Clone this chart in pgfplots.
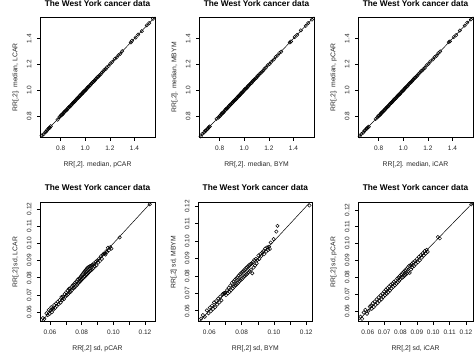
\documentclass[border=0pt]{standalone}
\usepackage{fontspec}
\setmainfont{Liberation Sans}
\usepackage{pgfplots}
\usepackage{pgfplotstable}
\pgfplotsset{compat=1.18}

\pgfplotstableread{
x y1 y2 y3
0.645 0.648 0.642 0.643
0.660 0.658 0.662 0.661
0.675 0.676 0.674 0.672
0.683 0.680 0.686 0.685
0.690 0.692 0.688 0.690
0.700 0.700 0.700 0.703
0.705 0.708 0.702 0.703
0.712 0.710 0.714 0.713
0.720 0.721 0.719 0.717
0.775 0.772 0.778 0.777
0.790 0.792 0.788 0.790
0.798 0.798 0.798 0.801
0.805 0.808 0.802 0.803
0.810 0.808 0.812 0.811
0.815 0.816 0.814 0.812
0.820 0.817 0.823 0.822
0.825 0.827 0.823 0.825
0.830 0.830 0.830 0.833
0.836 0.839 0.833 0.834
0.842 0.840 0.844 0.843
0.848 0.849 0.847 0.845
0.853 0.850 0.856 0.855
0.858 0.860 0.856 0.858
0.864 0.864 0.864 0.867
0.870 0.873 0.867 0.868
0.875 0.873 0.877 0.876
0.880 0.881 0.879 0.877
0.886 0.883 0.889 0.888
0.892 0.894 0.890 0.892
0.898 0.898 0.898 0.901
0.903 0.906 0.900 0.901
0.908 0.906 0.910 0.909
0.913 0.914 0.912 0.910
0.918 0.915 0.921 0.920
0.923 0.925 0.921 0.923
0.928 0.928 0.928 0.931
0.933 0.936 0.930 0.931
0.938 0.936 0.940 0.939
0.943 0.944 0.942 0.940
0.948 0.945 0.951 0.950
0.953 0.955 0.951 0.953
0.958 0.958 0.958 0.961
0.963 0.966 0.960 0.961
0.968 0.966 0.970 0.969
0.973 0.974 0.972 0.970
0.978 0.975 0.981 0.980
0.983 0.985 0.981 0.983
0.988 0.988 0.988 0.991
0.993 0.996 0.990 0.991
0.998 0.996 1.000 0.999
1.003 1.004 1.002 1.000
1.008 1.005 1.011 1.010
1.013 1.015 1.011 1.013
1.018 1.018 1.018 1.021
1.024 1.027 1.021 1.022
1.030 1.028 1.032 1.031
1.036 1.037 1.035 1.033
1.042 1.039 1.045 1.044
1.048 1.050 1.046 1.048
1.054 1.054 1.054 1.057
1.060 1.063 1.057 1.058
1.066 1.064 1.068 1.067
1.072 1.073 1.071 1.069
1.078 1.075 1.081 1.080
1.085 1.087 1.083 1.085
1.092 1.092 1.092 1.095
1.100 1.103 1.097 1.098
1.108 1.106 1.110 1.109
1.116 1.117 1.115 1.113
1.125 1.122 1.128 1.127
1.135 1.137 1.133 1.135
1.145 1.145 1.145 1.148
1.155 1.158 1.152 1.153
1.165 1.163 1.167 1.166
1.175 1.176 1.174 1.172
1.190 1.187 1.193 1.192
1.205 1.207 1.203 1.205
1.220 1.220 1.220 1.223
1.240 1.243 1.237 1.238
1.255 1.253 1.257 1.256
1.270 1.271 1.269 1.267
1.285 1.282 1.288 1.287
1.300 1.302 1.298 1.300
1.370 1.370 1.370 1.373
1.380 1.383 1.377 1.378
1.410 1.408 1.412 1.411
1.430 1.431 1.429 1.427
1.460 1.457 1.463 1.462
1.500 1.502 1.498 1.500
1.520 1.520 1.520 1.523
1.550 1.553 1.547 1.548
}\medtab

\pgfplotstableread{
x y
0.0555 0.0565
0.0565 0.0560
0.0578 0.0593
0.0585 0.0582
0.0592 0.0612
0.0598 0.0590
0.0603 0.0608
0.0608 0.0628
0.0612 0.0600
0.0618 0.0622
0.0622 0.0615
0.0627 0.0641
0.0633 0.0625
0.0638 0.0650
0.0642 0.0635
0.0648 0.0660
0.0655 0.0646
0.0661 0.0670
0.0667 0.0655
0.0672 0.0688
0.0678 0.0670
0.0683 0.0690
0.0688 0.0675
0.0692 0.0705
0.0697 0.0690
0.0701 0.0715
0.0706 0.0696
0.0711 0.0725
0.0715 0.0705
0.0719 0.0735
0.0723 0.0713
0.0727 0.0738
0.0731 0.0718
0.0735 0.0745
0.0739 0.0728
0.0743 0.0756
0.0747 0.0738
0.0751 0.0760
0.0755 0.0742
0.0759 0.0772
0.0763 0.0752
0.0767 0.0778
0.0771 0.0758
0.0775 0.0790
0.0779 0.0768
0.0783 0.0795
0.0786 0.0774
0.0789 0.0800
0.0792 0.0780
0.0795 0.0808
0.0798 0.0787
0.0801 0.0815
0.0804 0.0792
0.0807 0.0822
0.0810 0.0798
0.0813 0.0830
0.0816 0.0805
0.0819 0.0838
0.0822 0.0808
0.0825 0.0845
0.0828 0.0815
0.0831 0.0850
0.0834 0.0820
0.0837 0.0858
0.0840 0.0826
0.0843 0.0862
0.0846 0.0832
0.0849 0.0866
0.0852 0.0838
0.0855 0.0868
0.0858 0.0842
0.0862 0.0872
0.0866 0.0848
0.0870 0.0878
0.0874 0.0856
0.0878 0.0884
0.0883 0.0865
0.0888 0.0893
0.0893 0.0872
0.0898 0.0900
0.0904 0.0888
0.0910 0.0912
0.0916 0.0898
0.0922 0.0925
0.0928 0.0910
0.0934 0.0935
0.0940 0.0940
0.0945 0.0940
0.0950 0.0935
0.0955 0.0955
0.0960 0.0950
0.0966 0.0975
0.0972 0.0960
0.0980 0.0978
0.0988 0.0970
0.1040 0.1035
0.1230 0.1228
}\sdA

\pgfplotstableread{
x y
0.0550 0.0555
0.0560 0.0575
0.0572 0.0565
0.0585 0.0602
0.0595 0.0585
0.0603 0.0618
0.0610 0.0598
0.0617 0.0630
0.0623 0.0610
0.0630 0.0648
0.0636 0.0620
0.0642 0.0655
0.0648 0.0635
0.0655 0.0670
0.0662 0.0648
0.0668 0.0682
0.0675 0.0660
0.0682 0.0695
0.0688 0.0700
0.0694 0.0702
0.0699 0.0703
0.0704 0.0690
0.0710 0.0718
0.0715 0.0700
0.0720 0.0732
0.0725 0.0708
0.0730 0.0745
0.0735 0.0718
0.0740 0.0760
0.0745 0.0728
0.0750 0.0768
0.0754 0.0738
0.0758 0.0778
0.0762 0.0745
0.0766 0.0785
0.0770 0.0752
0.0774 0.0792
0.0778 0.0760
0.0782 0.0802
0.0786 0.0768
0.0790 0.0810
0.0794 0.0775
0.0798 0.0818
0.0802 0.0782
0.0806 0.0825
0.0810 0.0790
0.0814 0.0832
0.0818 0.0798
0.0822 0.0840
0.0826 0.0805
0.0830 0.0848
0.0834 0.0812
0.0838 0.0855
0.0842 0.0820
0.0846 0.0862
0.0850 0.0828
0.0854 0.0868
0.0858 0.0835
0.0862 0.0872
0.0866 0.0815
0.0870 0.0880
0.0874 0.0848
0.0878 0.0892
0.0883 0.0860
0.0888 0.0898
0.0893 0.0872
0.0898 0.0892
0.0904 0.0918
0.0910 0.0898
0.0916 0.0925
0.0922 0.0915
0.0928 0.0935
0.0934 0.0942
0.0940 0.0925
0.0946 0.0958
0.0952 0.0940
0.0958 0.0965
0.0964 0.0950
0.0970 0.0968
0.0975 0.0955
0.0980 0.0992
0.0998 0.1012
0.1015 0.1055
0.1022 0.1088
0.1220 0.1205
}\sdB

\pgfplotstableread{
x y
0.0555 0.0565
0.0565 0.0552
0.0575 0.0590
0.0585 0.0605
0.0595 0.0582
0.0605 0.0600
0.0612 0.0625
0.0618 0.0630
0.0624 0.0612
0.0630 0.0645
0.0636 0.0622
0.0642 0.0655
0.0648 0.0635
0.0654 0.0668
0.0660 0.0645
0.0666 0.0680
0.0672 0.0658
0.0678 0.0692
0.0684 0.0668
0.0690 0.0702
0.0695 0.0682
0.0700 0.0715
0.0705 0.0692
0.0710 0.0725
0.0715 0.0700
0.0720 0.0735
0.0725 0.0710
0.0730 0.0745
0.0735 0.0720
0.0740 0.0755
0.0745 0.0732
0.0750 0.0762
0.0755 0.0742
0.0760 0.0772
0.0765 0.0750
0.0770 0.0780
0.0775 0.0760
0.0780 0.0792
0.0784 0.0770
0.0788 0.0798
0.0792 0.0778
0.0796 0.0808
0.0800 0.0788
0.0804 0.0815
0.0808 0.0795
0.0812 0.0825
0.0816 0.0800
0.0820 0.0832
0.0824 0.0808
0.0828 0.0840
0.0832 0.0815
0.0836 0.0848
0.0840 0.0822
0.0844 0.0858
0.0848 0.0830
0.0852 0.0866
0.0856 0.0825
0.0860 0.0872
0.0864 0.0845
0.0868 0.0878
0.0872 0.0858
0.0877 0.0888
0.0882 0.0865
0.0888 0.0895
0.0894 0.0878
0.0900 0.0908
0.0906 0.0888
0.0912 0.0920
0.0918 0.0900
0.0924 0.0930
0.0930 0.0915
0.0936 0.0942
0.0942 0.0928
0.0948 0.0955
0.0954 0.0940
0.0960 0.0962
0.0966 0.0950
0.1028 0.1038
0.1040 0.1030
0.1232 0.1232
}\sdC

\pgfplotsset{
  rplot/.style={
    scale only axis,
    anchor=south west,
    axis line style={black, line width=0.5pt},
    tick align=outside,
    major tick length=3pt,
    tick style={black, line width=0.5pt},
    xtick pos=bottom, ytick pos=left,
    ticklabel style={font=\fontsize{6.5}{7}\selectfont, text=black!85},
    xticklabel style={yshift=-2pt},
    yticklabel style={xshift=-2pt, rotate=90, anchor=south},
    label style={font=\fontsize{6.8}{8}\selectfont, text=black!85},
    title={The West York cancer data},
    clip=true,
  },
  rmed/.style={
    rplot, width=115pt, height=120.7pt,
    xmin=0.632, xmax=1.567, ymin=0.632, ymax=1.567,
    xtick={0.8,1.0,1.2,1.4}, xticklabels={0.8,1.0,1.2,1.4},
    ytick={0.8,1.0,1.2,1.4}, yticklabels={0.8,1.0,1.2,1.4},
    every axis title/.style={at={(axis description cs:0.5,1.083)}, anchor=base,
      font=\bfseries\fontsize{8.3}{10}\selectfont},
    xlabel style={at={(axis description cs:0.5,-0.225)}, anchor=center},
    ylabel style={at={(axis description cs:-0.211,0.5)}, anchor=center},
  },
  rsd/.style={
    rplot, width=115pt, height=119pt,
    xtick={0.06,0.07,...,0.12},
    ytick={0.06,0.07,...,0.12}, yticklabels={0.06,0.07,0.08,0.09,0.10,0.11,0.12},
    every axis title/.style={at={(axis description cs:0.5,1.101)}, anchor=base,
      font=\bfseries\fontsize{8.3}{10}\selectfont},
    xlabel style={at={(axis description cs:0.5,-0.23)}, anchor=center},
    ylabel style={at={(axis description cs:-0.211,0.5)}, anchor=center},
  },
  pts/.style={only marks, mark=o, mark size=1.7pt, mark options={black, line width=0.5pt}},
}

\begin{document}
\begin{tikzpicture}
\path[use as bounding box] (0pt,0pt) rectangle (474pt,363pt);

% Top row
\begin{axis}[rmed, at={(40pt,225.3pt)},
  xlabel={RR[,2]. median, pCAR}, ylabel={RR[,2]. median, LCAR}]
\addplot[black, line width=0.5pt] coordinates {(0.5,0.5) (1.7,1.7)};
\addplot[pts] table[x=x, y=y1] {\medtab};
\end{axis}

\begin{axis}[rmed, at={(199pt,225.3pt)},
  xlabel={RR[,2]. median, BYM}, ylabel={RR[,2]. median, MBYM}]
\addplot[black, line width=0.5pt] coordinates {(0.5,0.5) (1.7,1.7)};
\addplot[pts] table[x=x, y=y2] {\medtab};
\end{axis}

\begin{axis}[rmed, at={(358pt,225.3pt)},
  xlabel={RR[,2]. median, iCAR}, ylabel={RR[,2]. median, pCAR}]
\addplot[black, line width=0.5pt] coordinates {(0.5,0.5) (1.7,1.7)};
\addplot[pts] table[x=x, y=y3] {\medtab};
\end{axis}

% Bottom row
\begin{axis}[rsd, at={(40pt,41.3pt)}, width=115pt,
  xmin=0.0537, xmax=0.1263, ymin=0.0544, ymax=0.1237,
  xticklabels={0.06,,0.08,,0.10,,0.12},
  xlabel={RR[,2] sd, pCAR}, ylabel={RR[,2] sd, LCAR}]
\addplot[black, line width=0.5pt] coordinates {(0.04,0.04) (0.14,0.14)};
\addplot[pts] table[x=x, y=y] {\sdA};
\end{axis}

\begin{axis}[rsd, at={(198pt,41.3pt)}, width=114.7pt,
  xmin=0.053, xmax=0.124, ymin=0.0537, ymax=0.1221,
  xticklabels={0.06,,0.08,,0.10,,0.12},
  xlabel={RR[,2] sd, BYM}, ylabel={RR[,2] sd, MBYM}]
\addplot[black, line width=0.5pt] coordinates {(0.04,0.04) (0.14,0.14)};
\addplot[pts] table[x=x, y=y] {\sdB};
\end{axis}

\begin{axis}[rsd, at={(358pt,41.3pt)}, width=115pt,
  xmin=0.054, xmax=0.1243, ymin=0.0535, ymax=0.1242,
  xticklabels={0.06,0.07,0.08,0.09,0.10,0.11,0.12},
  xlabel={RR[,2] sd, iCAR}, ylabel={RR[,2] sd, pCAR}]
\addplot[black, line width=0.5pt] coordinates {(0.04,0.04) (0.14,0.14)};
\addplot[pts] table[x=x, y=y] {\sdC};
\end{axis}
\end{tikzpicture}
\end{document}
